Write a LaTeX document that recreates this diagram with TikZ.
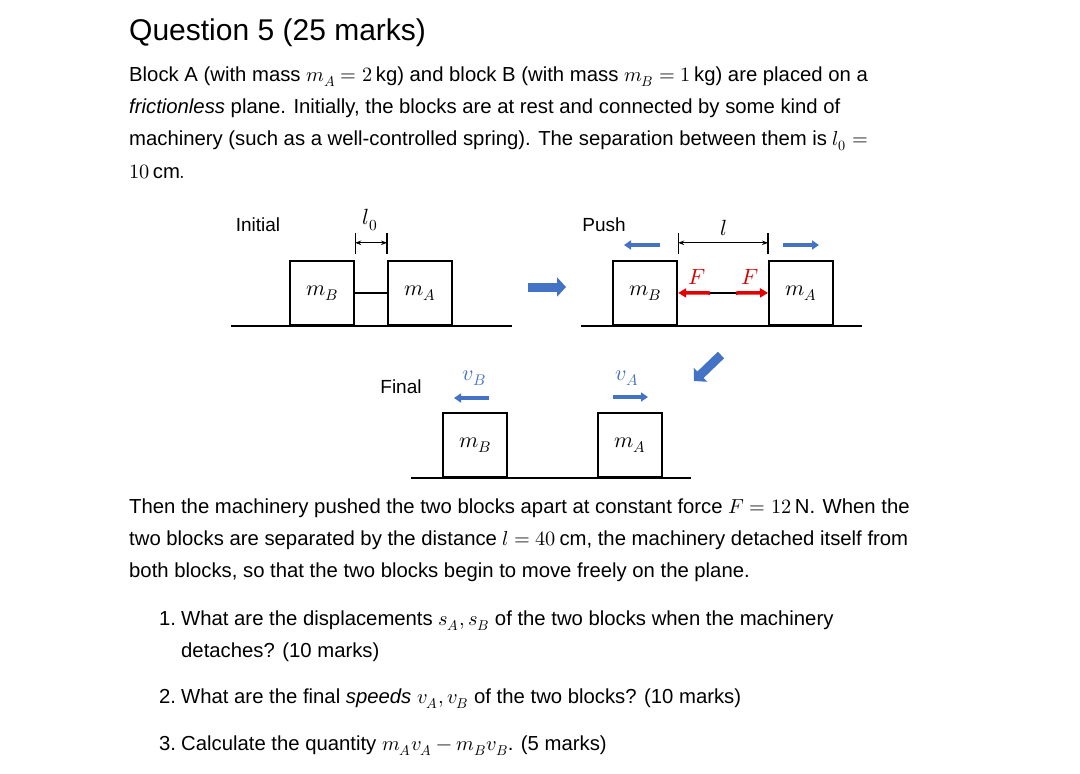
\documentclass[tikz,border=0pt]{standalone}
\usepackage{fontspec}
\usepackage{unicode-math}
\setmainfont{Liberation Sans}
\setmathfont{Latin Modern Math}
\usetikzlibrary{arrows.meta}
\begin{document}
\begin{tikzpicture}[x=1pt,y=-1pt,
  txt/.style={anchor=base west,inner sep=0pt,font=\fontsize{20.3}{24}\selectfont},
  lbl/.style={inner sep=0pt,font=\fontsize{19}{22}\selectfont},
  mlbl/.style={inner sep=0pt,font=\fontsize{22}{24}\selectfont},
  blk/.style={draw,line width=2.2pt,minimum width=64pt,minimum height=64pt,inner sep=0pt,font=\fontsize{22}{24}\selectfont},
  gnd/.style={line width=2.6pt},
  barrow/.style={-{Triangle[length=7pt,width=9pt]},line width=3.5pt,color=bl},
  bigarrow/.style={-{Triangle[length=9pt,width=19pt]},line width=9pt,color=bl},
  rarrow/.style={-{Triangle[length=8pt,width=9pt]},line width=3.5pt,color=red!90!black},
  dim/.style={{Stealth[length=6pt]}-{Stealth[length=6pt]},line width=1pt},
  tick/.style={line width=1.2pt}]
\definecolor{bl}{RGB}{68,114,196}
\useasboundingbox[fill=white] (0,0) rectangle (1080,774);
\node[txt,font=\fontsize{30}{33}\selectfont] (title) at (129,40) {Question 5 (25 marks)};
\node[txt] (p1) at (129,81) {Block A (with mass \(m_A=2\,\mathrm{kg}\)) and block B (with mass \(m_B=1\,\mathrm{kg}\)) are placed on a};
\node[txt] (p2) at (129,113) {\textit{frictionless} plane. Initially, the blocks are at rest and connected by some kind of};
\node[txt] (p3) at (129,145) {machinery (such as a well-controlled spring). The separation between them is \(l_0=\)};
\node[txt] (p4) at (129,178) {\(10\,\mathrm{cm}.\)};
% Initial
\node[lbl] (ini) at (258,225) {Initial};
\draw[gnd] (231,326) coordinate (g1a) -- (512,326) coordinate (g1b);
\node[blk,anchor=south west] (iB) at (289,326) {\(m_B\)};
\node[blk,anchor=south west] (iA) at (387,326) {\(m_A\)};
\draw[line width=2.2pt] (iB.east) -- (iA.west);
\draw[tick] ([yshift=6]iB.north east) coordinate (t1) -- ++(0,-21);
\draw[tick] ([yshift=6]iA.north west) coordinate (t2) -- ++(0,-21);
\draw[dim] ([yshift=11]t1) -- ([yshift=11]t2);
\node[mlbl] (l0) at (370,220) {\(l_0\)};
\draw[bigarrow] (528,287) -- (566,287);
% Push
\node[lbl] (push) at (604,225) {Push};
\draw[gnd] (581,326) -- (862,326);
\node[blk,anchor=south west] (pB) at (612,326) {\(m_B\)};
\node[blk,anchor=south west] (pA) at (768,326) {\(m_A\)};
\draw[line width=2pt] (708,293) -- (738,293);
\draw[rarrow] (710,293) -- (pB.east);
\draw[rarrow] (736,293) -- (pA.west);
\node[mlbl,text=red!85!black] (F1) at (697,277) {\(F\)};
\node[mlbl,text=red!85!black] (F2) at (750,277) {\(F\)};
\draw[tick] ([yshift=6]pB.north east) coordinate (t3) -- ++(0,-21);
\draw[tick] ([yshift=6]pA.north west) coordinate (t4) -- ++(0,-21);
\draw[dim] ([yshift=11]t3) -- ([yshift=11]t4);
\node[mlbl] (l) at (724,228) {\(l\)};
\draw[barrow] (660,245) -- (624,245);
\draw[barrow] (783,245) -- (819,245);
\draw[bigarrow] (721,355) -- (694,381);
% Final
\node[lbl] (fin) at (401,387) {Final};
\draw[gnd] (411,478) -- (691,478);
\node[blk,anchor=south west] (fB) at (442,478) {\(m_B\)};
\node[blk,anchor=south west] (fA) at (597,478) {\(m_A\)};
\node[mlbl,text=bl] (vB) at (474,378) {\(v_B\)};
\node[mlbl,text=bl] (vA) at (627,378) {\(v_A\)};
\draw[barrow] (489,398) -- (454,398);
\draw[barrow] (613,397) -- (648,397);
% text below
\node[txt] (q1) at (129,513) {Then the machinery pushed the two blocks apart at constant force \(F=12\,\mathrm{N}\). When the};
\node[txt] (q2) at (129,545) {two blocks are separated by the distance \(l=40\,\mathrm{cm}\), the machinery detached itself from};
\node[txt] (q3) at (129,577) {both blocks, so that the two blocks begin to move freely on the plane.};
\node[txt] (n1) at (159,625) {1.};
\node[txt] (i1) at (181,625) {What are the displacements \(s_A,s_B\) of the two blocks when the machinery};
\node[txt] (i1b) at (181,657) {detaches? (10 marks)};
\node[txt] (n2) at (159,703) {2.};
\node[txt] (i2) at (181,703) {What are the final \textit{speeds} \(v_A,v_B\) of the two blocks? (10 marks)};
\node[txt] (n3) at (159,750) {3.};
\node[txt] (i3) at (181,750) {Calculate the quantity \(m_Av_A-m_Bv_B\). (5 marks)};
\end{tikzpicture}
\end{document}
